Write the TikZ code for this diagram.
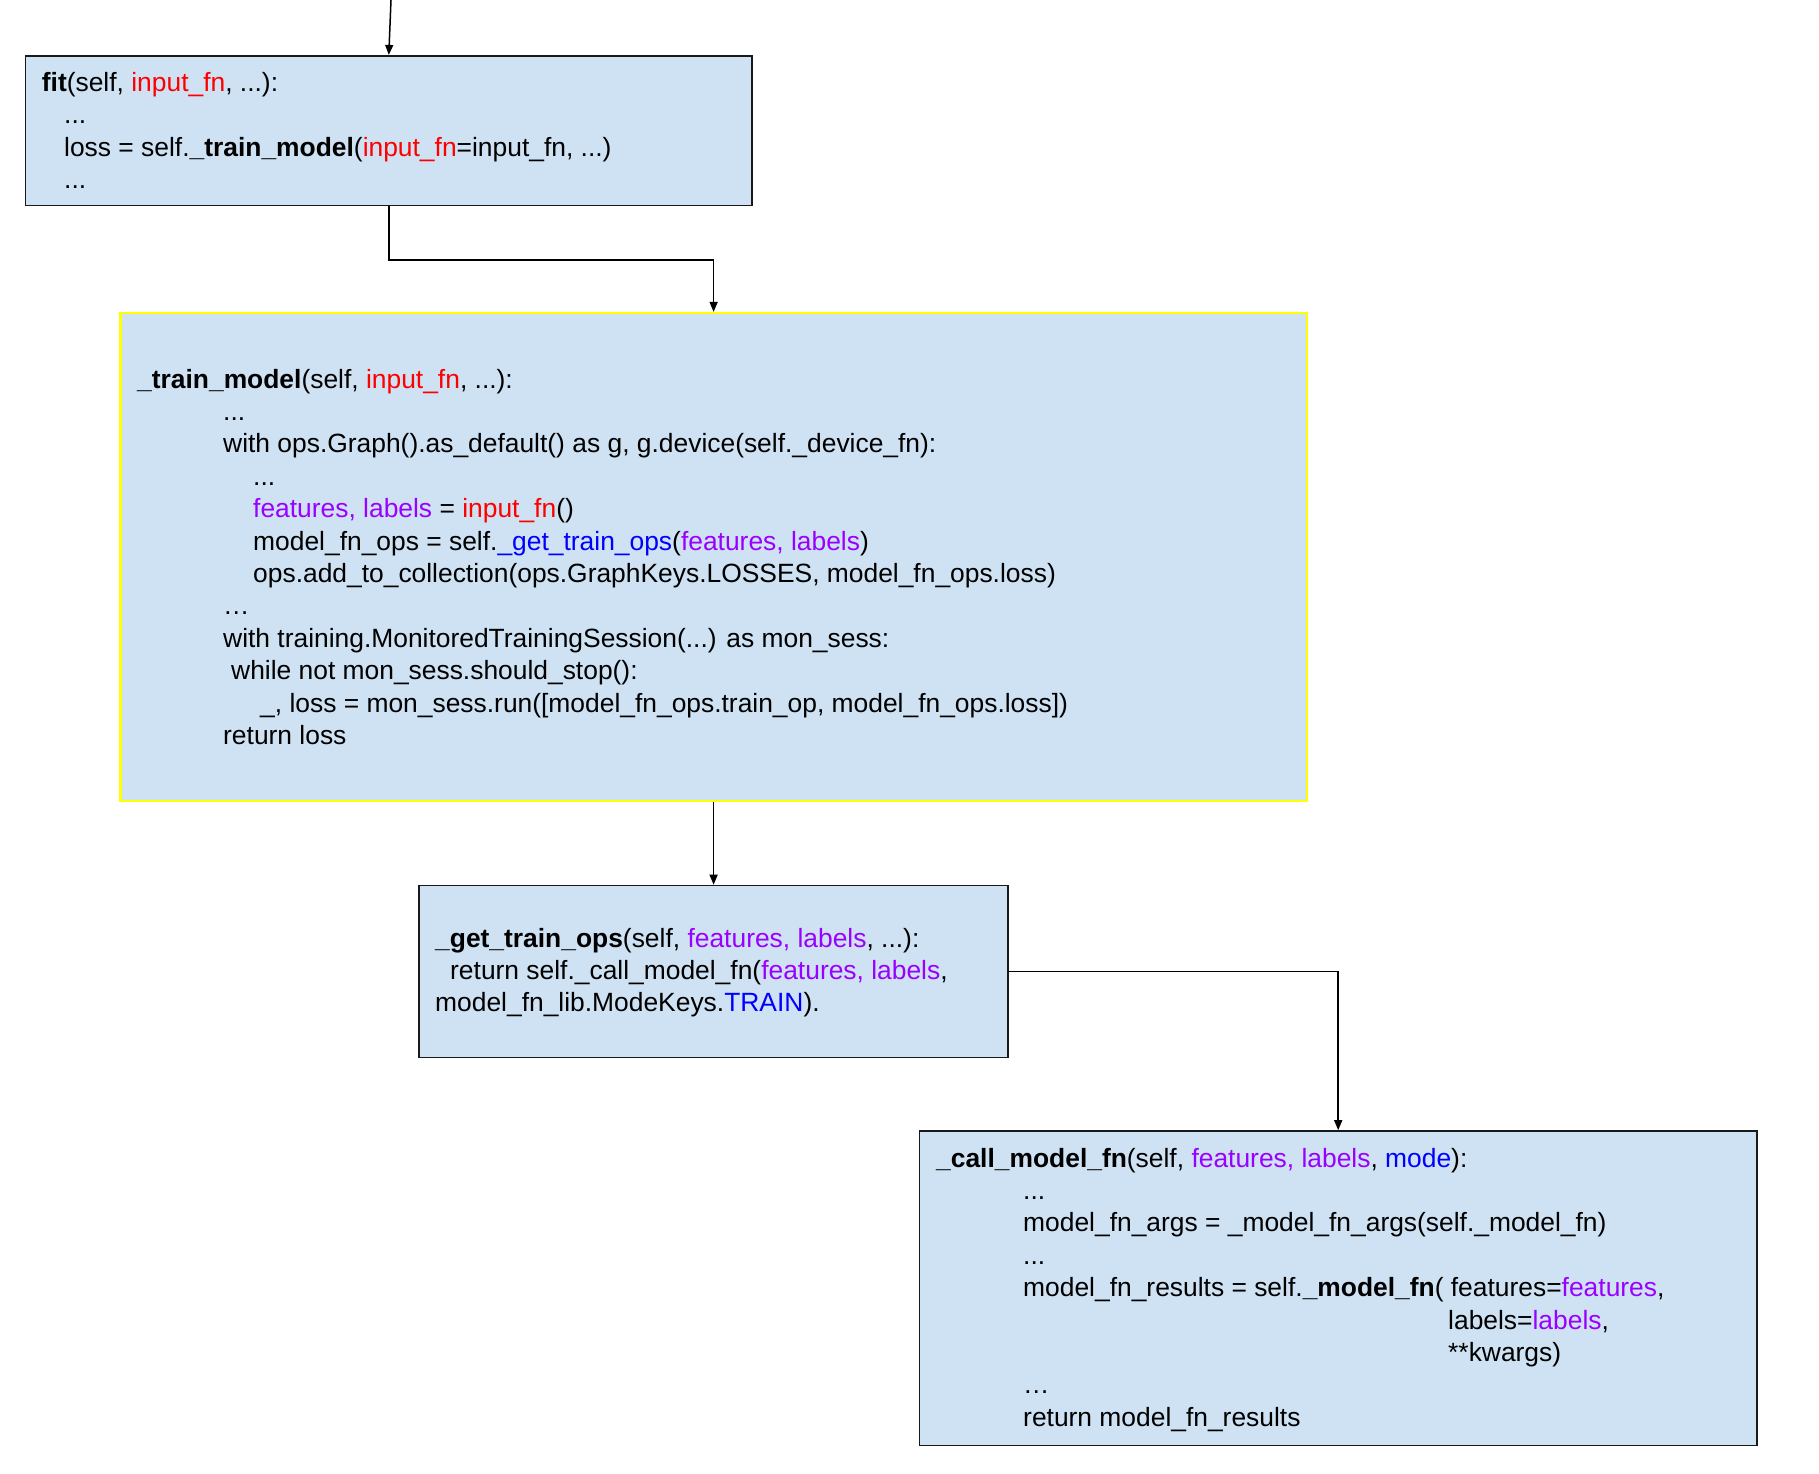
\documentclass[tikz,border=0pt]{standalone}
\usepackage{fontspec}
\setmainfont{Liberation Sans}
\usetikzlibrary{arrows.meta}
\definecolor{boxfill}{HTML}{CFE2F3}
\definecolor{xred}{HTML}{FF0000}
\definecolor{xpurple}{HTML}{9900FF}
\definecolor{xblue}{HTML}{0000FF}
\definecolor{xyellow}{HTML}{FFFF00}
\newcommand{\cred}[1]{\textcolor{xred}{#1}}
\newcommand{\cpur}[1]{\textcolor{xpurple}{#1}}
\newcommand{\cblu}[1]{\textcolor{xblue}{#1}}
\newcommand{\codefont}{\fontsize{26.4pt}{32.4pt}\selectfont}
\newcommand{\codelines}[1]{\parbox[t]{1600pt}{\codefont\raggedright #1}}
\tikzset{
  codebox/.style={draw=black!90, line width=1.6pt, fill=boxfill, inner sep=0pt, anchor=center},
  codetext/.style={anchor=base west, inner sep=0pt},
  conn/.style={line width=1.5pt, draw=black, -{Triangle[length=10pt,width=8pt]}},
}
\begin{document}
\begin{tikzpicture}[x=1pt,y=-1pt]
\fill[white] (0,0) rectangle (1819,1473);
\useasboundingbox (0,0) rectangle (1819,1473);

% boxes
\node[codebox, minimum width=726.5pt, minimum height=149.8pt] (fit) at (388.8,130.6) {};
\node[codebox, draw=xyellow, line width=2.2pt, minimum width=1186.3pt, minimum height=488pt] (train) at (713.6,557) {};
\node[codebox, minimum width=589pt, minimum height=172pt] (getops) at (713.6,971.5) {};
\node[codebox, minimum width=837.5pt, minimum height=314.5pt] (call) at (1338.2,1288.2) {};

% texts
\node[codetext] (fittext) at (41.7,91.5) {\codelines{%
\textbf{fit}(self, \cred{input\_fn}, ...):\\
\hspace*{22.3pt}...\\
\hspace*{22.3pt}loss = self.\textbf{\_train\_model}(\cred{input\_fn}=input\_fn, ...)\\
\hspace*{22.3pt}...}};

\node[codetext] (traintext) at (137,388) {\codelines{%
\textbf{\_train\_model}(self, \cred{input\_fn}, ...):\\
\hspace*{86pt}...\\
\hspace*{86pt}with ops.Graph().as\_default() as g, g.device(self.\_device\_fn):\\
\hspace*{116pt}...\\
\hspace*{116pt}\cpur{features, labels} = \cred{input\_fn}()\\
\hspace*{116pt}model\_fn\_ops = self.\cblu{\_get\_train\_ops}(\cpur{features, labels})\\
\hspace*{116pt}ops.add\_to\_collection(ops.GraphKeys.LOSSES, model\_fn\_ops.loss)\\
\hspace*{86pt}…\\
\hspace*{86pt}with training.MonitoredTrainingSession(...) as mon\_sess:\\
\hspace*{94pt}while not mon\_sess.should\_stop():\\
\hspace*{123pt}\_, loss = mon\_sess.run([model\_fn\_ops.train\_op, model\_fn\_ops.loss])\\
\hspace*{86pt}return loss}};

\node[codetext] (getopstext) at (435,947) {\codelines{%
\textbf{\_get\_train\_ops}(self, \cpur{features, labels}, ...):\\
\hspace*{15pt}return self.\_call\_model\_fn(\cpur{features, labels},\\
\hspace*{0pt}model\_fn\_lib.ModeKeys.\cblu{TRAIN}).}};

\node[codetext] (calltext) at (936,1167) {\codelines{%
\textbf{\_call\_model\_fn}(self, \cpur{features, labels}, \cblu{mode}):\\
\hspace*{87pt}...\\
\hspace*{87pt}model\_fn\_args = \_model\_fn\_args(self.\_model\_fn)\\
\hspace*{87pt}...\\
\hspace*{87pt}model\_fn\_results = self.\textbf{\_model\_fn}( features=\cpur{features},\\
\hspace*{512pt}labels=\cpur{labels},\\
\hspace*{512pt}**kwargs)\\
\hspace*{87pt}…\\
\hspace*{87pt}return model\_fn\_results}};

% connectors
\coordinate (topin) at (391,0);
\draw[conn] (topin) -- (fit.north);
\draw[conn] (fit.south) -- ++(0,53.5) -| (train.north);
\draw[conn] (train.south) -- (getops.north);
\draw[conn] (getops.east) -| (call.north);
\end{tikzpicture}
\end{document}
